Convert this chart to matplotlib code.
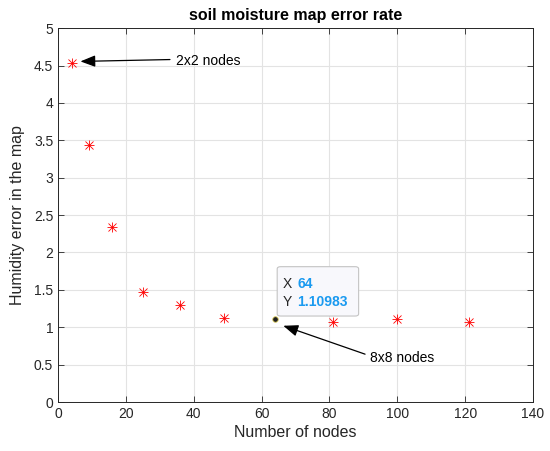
import matplotlib.pyplot as plt
from matplotlib.patches import FancyBboxPatch

# data
nodes = [4, 9, 16, 25, 36, 49, 64, 81, 100, 121]
error = [4.535, 3.435, 2.345, 1.47, 1.295, 1.123, 1.10983, 1.074, 1.105, 1.076]
tip_x = 64
tip_y = 1.10983

plt.rcParams['font.family'] = ['Liberation Sans', 'DejaVu Sans']
dark = '#262626'

fig = plt.figure(figsize=(5.5, 4.51), dpi=100)
ax = fig.add_axes([0.1055, 0.1086, 0.8636, 0.829])

# matlab style '*' marker = plus + cross; the datatip dot hides the one at x=64
xs = [x for x in nodes if x != tip_x]
ys = [y for x, y in zip(nodes, error) if x != tip_x]
ax.plot(xs, ys, linestyle='none', marker='+', color='red', markersize=7.5, markeredgewidth=0.6)
ax.plot(xs, ys, linestyle='none', marker='x', color='red', markersize=5.2, markeredgewidth=0.6)
ax.plot([tip_x], [tip_y], linestyle='none', marker='o', markersize=4,
        markerfacecolor='#202020', markeredgecolor='#e0d060', markeredgewidth=0.6, zorder=5)

ax.set_xlim(0, 140)
ax.set_ylim(0, 5)
ax.set_xticks(range(0, 141, 20))
ax.set_yticks([0, 0.5, 1, 1.5, 2, 2.5, 3, 3.5, 4, 4.5, 5])
ax.set_yticklabels(['0', '0.5', '1', '1.5', '2', '2.5', '3', '3.5', '4', '4.5', '5'])
ax.grid(True, color='#e3e3e3', linewidth=0.8)
ax.set_axisbelow(True)
ax.tick_params(direction='in', length=4, width=0.6, colors=dark, labelsize=10,
               top=True, right=True)
for s in ax.spines.values():
    s.set_color(dark)
    s.set_linewidth(0.7)

ax.set_xlabel('Number of nodes', fontsize=11.5, color=dark, labelpad=3)
ax.set_ylabel('Humidity error in the map', fontsize=11.5, color=dark, labelpad=6)
ax.set_title('soil moisture map error rate', fontsize=11.5, fontweight='bold', pad=6)

arrow = dict(arrowstyle='-|>,head_length=0.9,head_width=0.35', color='black', lw=0.9,
             shrinkA=0, shrinkB=0)
ax.annotate('', xy=(6.6, 4.555), xytext=(33, 4.58), arrowprops=arrow)
ax.text(34.8, 4.56, '2x2 nodes', fontsize=10, va='center', ha='left')
ax.annotate('', xy=(66.4, 1.02), xytext=(90.5, 0.64), arrowprops=arrow)
ax.text(92, 0.59, '8x8 nodes', fontsize=10, va='center', ha='left')

# datatip
box = FancyBboxPatch((64.6, 1.15), 24.0, 0.66, boxstyle='round,pad=0,rounding_size=1.0',
                     mutation_aspect=0.03, facecolor='#f8f8fc', edgecolor='#c4c4c4',
                     linewidth=0.8, zorder=6)
ax.add_patch(box)
blue = '#1a9af0'
ax.text(66.3, 1.578, 'X', fontsize=10, va='center', color=dark, zorder=7)
ax.text(70.6, 1.578, '64', fontsize=10, va='center', color=blue, fontweight='bold', zorder=7)
ax.text(66.3, 1.333, 'Y', fontsize=10, va='center', color=dark, zorder=7)
ax.text(70.6, 1.333, '1.10983', fontsize=10, va='center', color=blue, fontweight='bold', zorder=7)

fig.savefig('out.png', dpi=100)
